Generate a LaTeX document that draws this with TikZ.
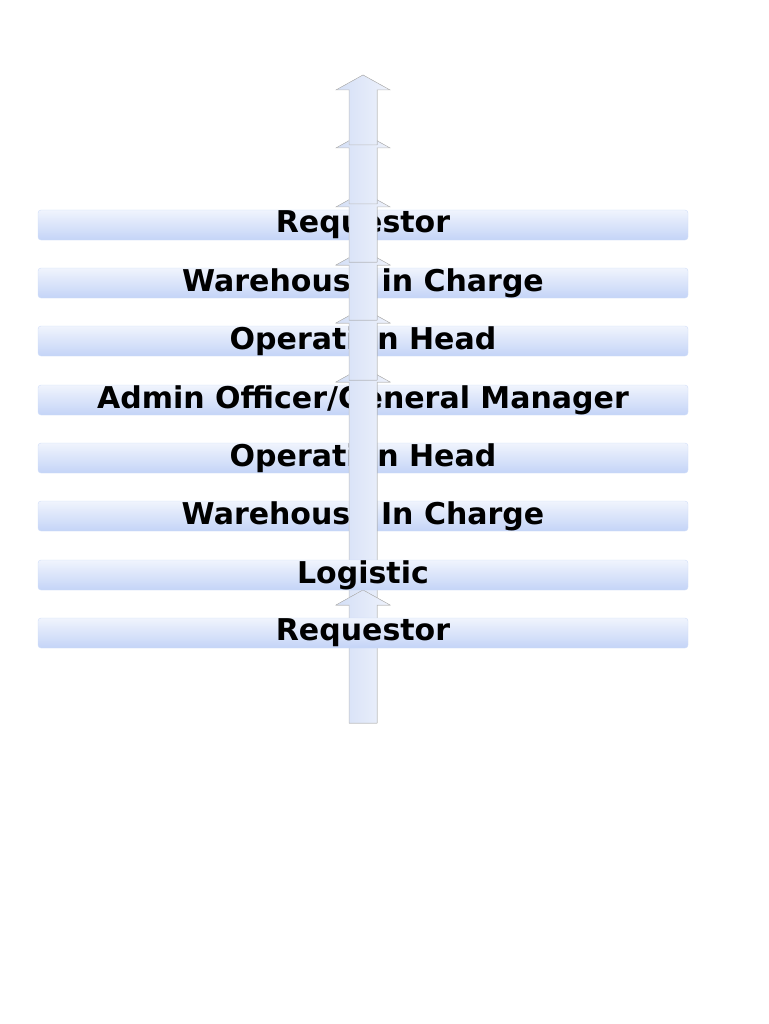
\documentclass[tikz,border=0pt]{standalone}
\usepackage{fontspec}
\setmainfont{DejaVu Sans}
\definecolor{bartop}{RGB}{240,244,253}
\definecolor{barbot}{RGB}{196,212,247}
\definecolor{arrl}{RGB}{212,223,246}
\definecolor{arrr}{RGB}{238,242,252}
\begin{document}
\begin{tikzpicture}[x=1pt,y=-1pt,
  bar/.style={minimum width=650pt,minimum height=30pt,rounded corners=3pt,top color=bartop,bottom color=barbot,draw=barbot!80!white,font=\fontsize{30}{30}\selectfont\bfseries,text=black,inner sep=0pt},
  arr/.style={left color=arrl,right color=arrr,draw=gray!50,line width=0.5pt}]
\useasboundingbox (0,0) rectangle (768,1024);
\def\uparr#1#2{\filldraw[arr] (349,#2) -- (349,#1+15) -- (336,#1+15) -- (363,#1) -- (390,#1+15) -- (377,#1+15) -- (377,#2) -- cycle;}
\foreach \y/\t [count=\i] in {225/Requestor,283/Warehouse in Charge,341/Operation Head,400/{Admin Officer/General Manager},458/Operation Head,516/Warehouse In Charge}
  \node[bar] (b\i) at (363,\y) {\t};
\uparr{367}{600}
\uparr{308}{380}
\uparr{250}{320}
\uparr{192}{262}
\uparr{133}{204}
\uparr{75}{145}
\uparr{590}{723}
\node[bar] (b7) at (363,575) {Logistic};
\node[bar] (b8) at (363,633) {Requestor};
\end{tikzpicture}
\end{document}
